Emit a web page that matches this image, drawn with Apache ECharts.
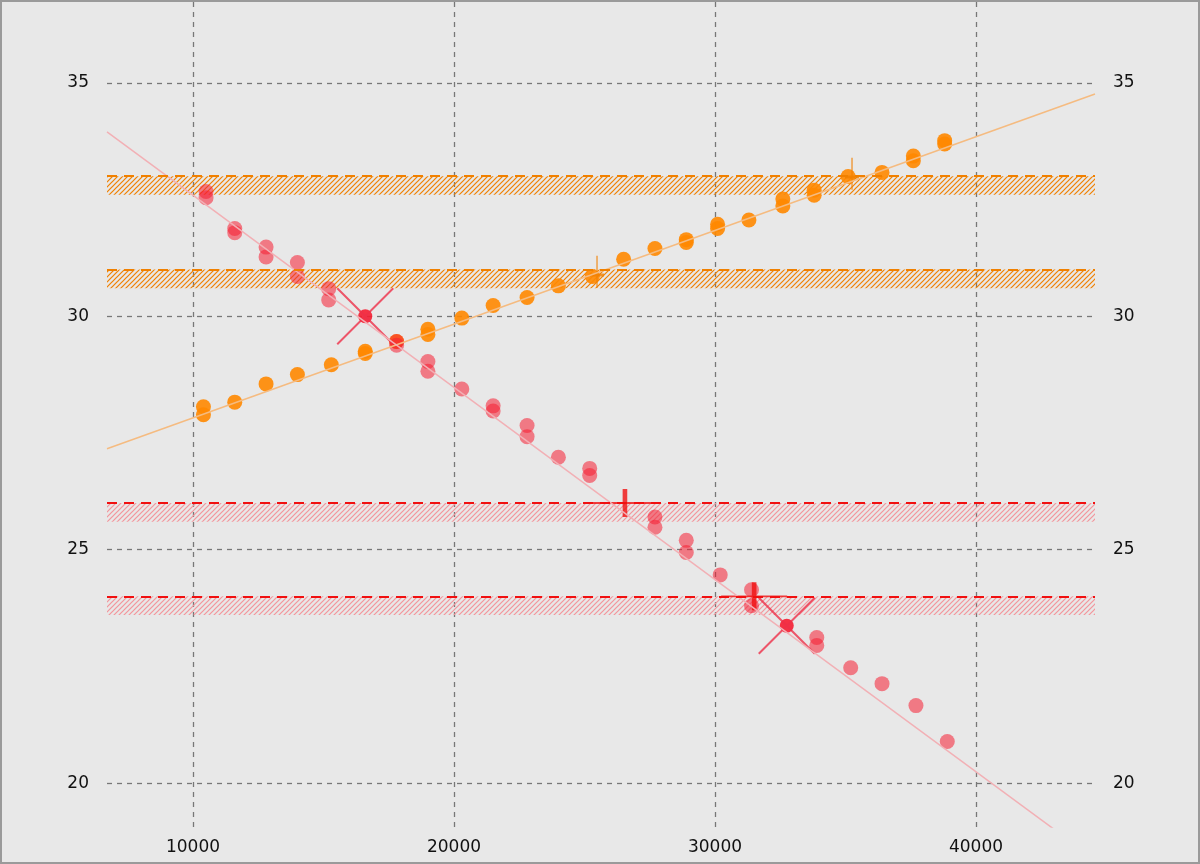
<!DOCTYPE html>
<html>
<head>
<meta charset="utf-8">
<script src="https://cdn.jsdelivr.net/npm/echarts@6/dist/echarts.min.js"></script>
<style>
  html, body { margin: 0; padding: 0; background: #e8e8e8; }
  #chart { width: 1196px; height: 860px; border: 2px solid #9a9a9a; }
</style>
</head>
<body>
<div id="chart"></div>
<script>
// range of the visible plot
const xRange = [6705, 44560];
const yRange = [19.06, 36.73];
const xTicks = [10000, 20000, 30000, 40000];
const yTicks = [20, 25, 30, 35];

// measured points [x, y]
const redPoints = [
  [10500, 32.67], [10500, 32.54], [11600, 31.88], [11600, 31.79], [12800, 31.48], [12800, 31.27],
  [14000, 31.15], [14000, 30.85], [15200, 30.59], [15200, 30.35], [17800, 29.46], [17800, 29.38],
  [19000, 29.03], [19000, 28.82], [20300, 28.44], [21500, 28.08], [21500, 27.97],
  [22800, 27.66], [22800, 27.42], [24000, 26.98], [25200, 26.74], [25200, 26.59],
  [27700, 25.70], [27700, 25.48], [28900, 25.20], [28900, 24.94], [30200, 24.46],
  [31400, 24.14], [31400, 23.80], [33900, 23.12], [33900, 22.95], [35200, 22.47],
  [36400, 22.13], [37700, 21.66], [38900, 20.89]
];
const orangePoints = [
  [10400, 28.06], [10400, 27.89], [11600, 28.16], [12800, 28.55], [14000, 28.75], [15300, 28.96],
  [16600, 29.20], [16600, 29.25], [17800, 29.46], [19000, 29.72], [19000, 29.61], [20300, 29.96],
  [21500, 30.23], [22800, 30.40], [24000, 30.65], [25300, 30.85], [26500, 31.22],
  [27700, 31.45], [28900, 31.64], [28900, 31.58], [30100, 31.97], [30100, 31.88], [31300, 32.06],
  [32600, 32.51], [32600, 32.36], [33800, 32.70], [33800, 32.59], [35100, 32.99],
  [36400, 33.08], [37600, 33.43], [37600, 33.33], [38800, 33.76], [38800, 33.69]
];
const redTrend = [[6705, 33.95], [43020, 19.0]];
const orangeTrend = [[6705, 27.16], [44560, 34.76]];
const orangeBands = [[32.6, 33.0], [30.6, 31.0]];
const redBands = [[25.6, 26.0], [23.6, 24.0]];
const redCrosses = [[16600, 30.0], [32750, 23.37]];
const redPluses = [[26550, 26.0], [31500, 24.0]];
const orangeTicks = [[25480, 30.95], [35250, 33.05]];

function hatch(color) {
  const c = document.createElement('canvas');
  c.width = 5; c.height = 5;
  const g = c.getContext('2d');
  g.fillStyle = 'rgba(0,0,0,0)';
  g.fillRect(0, 0, 5, 5);
  g.strokeStyle = color; g.lineWidth = 1.2;
  g.beginPath();
  g.moveTo(-1, 6); g.lineTo(6, -1);
  g.moveTo(-3, 3); g.lineTo(3, -3);
  g.moveTo(2, 8); g.lineTo(8, 2);
  g.stroke();
  return c.toDataURL();
}

function bandSeries(bands, lineColor, fill) {
  const img = new Image();
  img.src = hatch(fill);
  return {
    type: 'line', data: [], silent: true,
    markArea: {
      silent: true,
      itemStyle: { color: { image: img, repeat: 'repeat' }, opacity: 1 },
      data: bands.map(b => [{ yAxis: b[0] }, { yAxis: b[1] }])
    },
    markLine: {
      silent: true, symbol: 'none', label: { show: false },
      lineStyle: { color: lineColor, type: [10, 7], width: 2 },
      data: bands.map(b => ({ yAxis: b[1] }))
    }
  };
}

const axisGrey = { color: '#777', type: [5, 5], width: 1.3 };
const labelStyle = {
  color: '#111', fontSize: 17, fontFamily: 'DejaVu Sans',
  formatter: v => String(v)
};
const chart = echarts.init(document.getElementById('chart'));
function draw() {
  chart.setOption({
    backgroundColor: '#e8e8e8',
    animation: false,
    grid: { left: 105, right: 103, top: -2, bottom: 35 },
    xAxis: {
      type: 'value', min: xRange[0], max: xRange[1],
      axisLine: { show: false },
      axisTick: { show: false, customValues: xTicks },
      axisLabel: Object.assign({ customValues: xTicks, margin: 12 }, labelStyle),
      splitLine: { show: true, lineStyle: axisGrey }
    },
    yAxis: [0, 1].map(i => ({
      type: 'value', min: yRange[0], max: yRange[1], position: i ? 'right' : 'left',
      axisLine: { show: false },
      axisTick: { show: false, customValues: yTicks },
      axisLabel: Object.assign({ customValues: yTicks, margin: 18 }, labelStyle),
      splitLine: { show: i === 0, lineStyle: axisGrey }
    })),
    series: [
      bandSeries(orangeBands, '#f08000', '#f08000'),
      bandSeries(redBands, '#f01010', '#f3959b'),
      {
        type: 'line', data: orangeTrend, symbol: 'none', silent: true,
        lineStyle: { color: '#f5bb80', width: 1.5 }
      },
      {
        type: 'line', data: redTrend, symbol: 'none', silent: true,
        lineStyle: { color: '#f2b0b5', width: 1.5 }
      },
      {
        type: 'scatter', data: orangePoints, symbolSize: 15,
        itemStyle: { color: '#ff8800', opacity: 0.9 }
      },
      {
        type: 'scatter', data: redPoints, symbolSize: 15,
        itemStyle: { color: 'rgb(245,30,50)', opacity: 0.55 }
      },
      {
        type: 'scatter', data: redCrosses, symbolSize: 14,
        itemStyle: { color: 'rgb(245,30,50)', opacity: 0.9 }
      },
      {
        type: 'scatter', data: redCrosses, symbolSize: 56,
        symbol: 'path://M0,0L10,10M10,0L0,10',
        itemStyle: { color: 'none', borderColor: '#ee3048', borderWidth: 2 }
      },
      {
        type: 'scatter', data: redPluses, symbolSize: [66, 28],
        symbol: 'path://M0,5L10,5M5,0L5,10',
        itemStyle: { color: 'none', borderColor: '#f01010', borderWidth: 3 }
      },
      {
        type: 'scatter', data: orangeTicks, symbolSize: [14, 32],
        symbol: 'path://M5,0L5,10M0,6L10,6',
        itemStyle: { color: 'none', borderColor: '#f08000', borderWidth: 2 }
      }
    ]
  });
}
draw();
setTimeout(draw, 50);
</script>
</body>
</html>
